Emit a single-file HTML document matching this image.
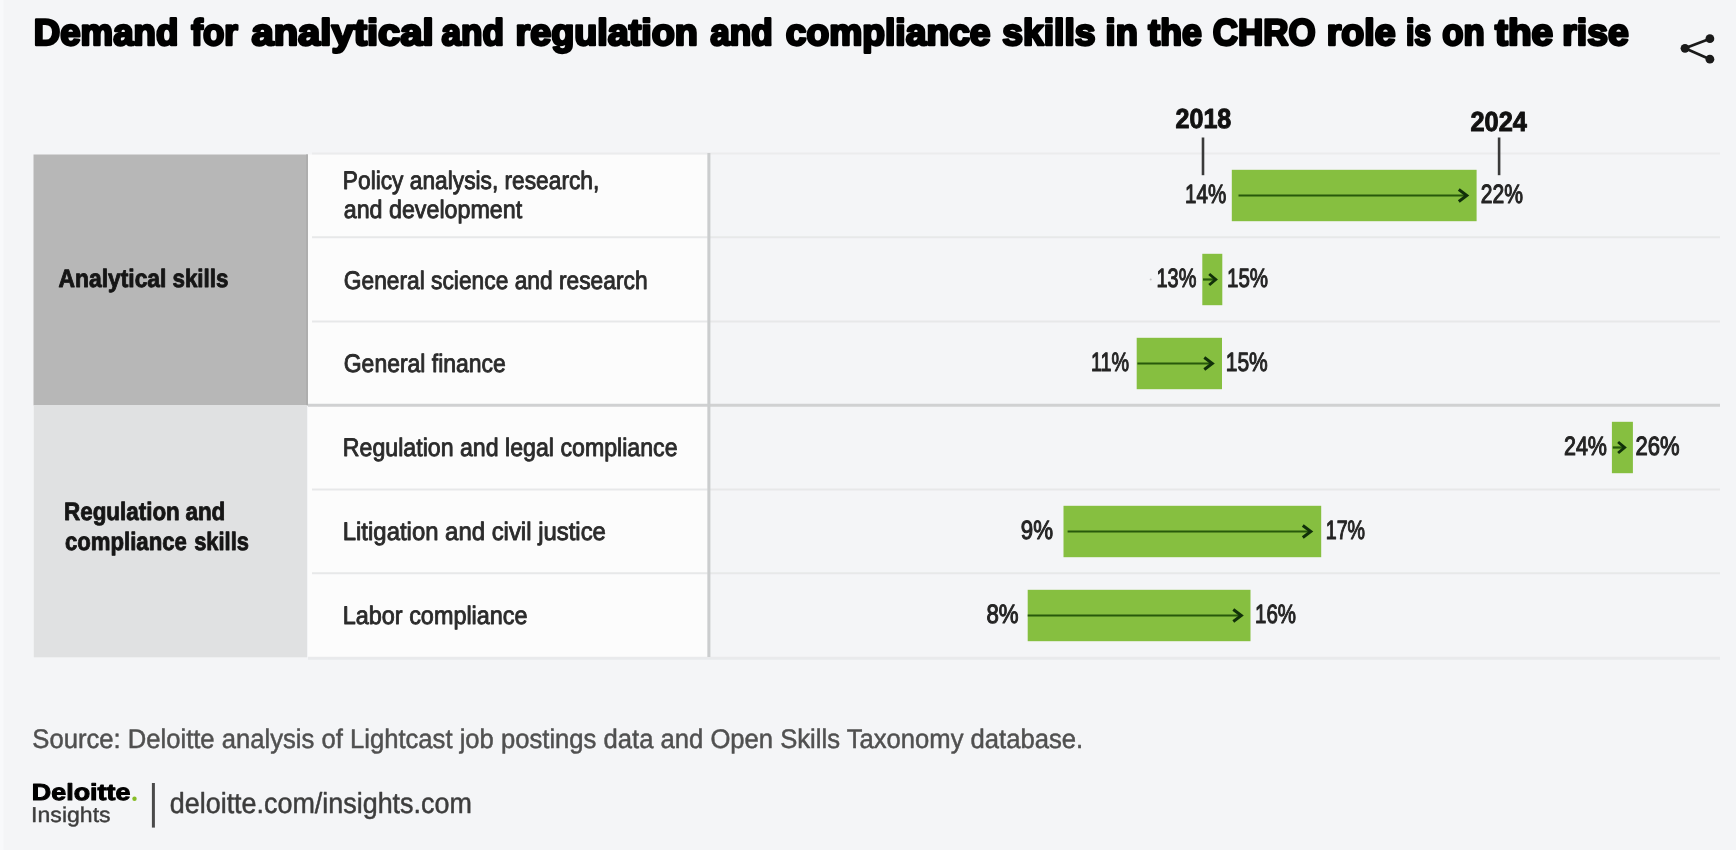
<!DOCTYPE html>
<html><head><meta charset="utf-8"><title>Demand for analytical and regulation and compliance skills in the CHRO role</title>
<style>
html,body{margin:0;padding:0;background:#f4f5f7;}
body{width:1736px;height:850px;overflow:hidden;font-family:"Liberation Sans", sans-serif;}
svg{display:block;font-family:"Liberation Sans", sans-serif;filter:blur(0.6px);}
text{white-space:pre;text-rendering:geometricPrecision;}
</style></head><body>
<svg width="1736" height="850" viewBox="0 0 1736 850">
<rect x="0" y="0" width="1736" height="850" fill="#f4f5f7"/>
<rect x="0" y="0" width="3.5" height="850" fill="#f8f9fb"/>
<rect x="33.5" y="154.5" width="274.5" height="250.8" fill="#b7b7b7"/>
<rect x="306" y="154.5" width="2" height="250.8" fill="#aeaeae"/>
<rect x="33.8" y="405.3" width="273.2" height="252.0" fill="#e0e1e2"/>
<rect x="308" y="154.5" width="399" height="502.8" fill="#fcfcfc"/>
<line x1="312" y1="153.6" x2="1720" y2="153.6" stroke="#ebeced" stroke-width="2"/>
<line x1="312" y1="237.3" x2="1720" y2="237.3" stroke="#e7e8e9" stroke-width="2"/>
<line x1="312" y1="321.4" x2="1720" y2="321.4" stroke="#e7e8e9" stroke-width="2"/>
<line x1="312" y1="489.4" x2="1720" y2="489.4" stroke="#e7e8e9" stroke-width="2"/>
<line x1="312" y1="573.2" x2="1720" y2="573.2" stroke="#e7e8e9" stroke-width="2"/>
<line x1="308" y1="658.3" x2="1720" y2="658.3" stroke="#e9eaec" stroke-width="3"/>
<line x1="308" y1="405.3" x2="1720" y2="405.3" stroke="#d0d1d2" stroke-width="3"/>
<line x1="708.9" y1="153" x2="708.9" y2="657" stroke="#cbcdce" stroke-width="3"/>
<text x="33.82" y="45.1" font-size="37" font-weight="bold" fill="#000" stroke="#000" stroke-width="2.6" stroke-linejoin="round" textLength="144.46" lengthAdjust="spacingAndGlyphs">Demand</text>
<text x="191.3" y="45.1" font-size="37" font-weight="bold" fill="#000" stroke="#000" stroke-width="2.6" stroke-linejoin="round" textLength="46.53" lengthAdjust="spacingAndGlyphs">for</text>
<text x="251.47" y="45.1" font-size="37" font-weight="bold" fill="#000" stroke="#000" stroke-width="2.6" stroke-linejoin="round" textLength="182.19" lengthAdjust="spacingAndGlyphs">analytical</text>
<text x="441.6" y="45.1" font-size="37" font-weight="bold" fill="#000" stroke="#000" stroke-width="2.6" stroke-linejoin="round" textLength="62.37" lengthAdjust="spacingAndGlyphs">and</text>
<text x="515.51" y="45.1" font-size="37" font-weight="bold" fill="#000" stroke="#000" stroke-width="2.6" stroke-linejoin="round" textLength="182.32" lengthAdjust="spacingAndGlyphs">regulation</text>
<text x="710.35" y="45.1" font-size="37" font-weight="bold" fill="#000" stroke="#000" stroke-width="2.6" stroke-linejoin="round" textLength="62.37" lengthAdjust="spacingAndGlyphs">and</text>
<text x="785.79" y="45.1" font-size="37" font-weight="bold" fill="#000" stroke="#000" stroke-width="2.6" stroke-linejoin="round" textLength="204.74" lengthAdjust="spacingAndGlyphs">compliance</text>
<text x="1002.29" y="45.1" font-size="37" font-weight="bold" fill="#000" stroke="#000" stroke-width="2.6" stroke-linejoin="round" textLength="93.24" lengthAdjust="spacingAndGlyphs">skills</text>
<text x="1105.59" y="45.1" font-size="37" font-weight="bold" fill="#000" stroke="#000" stroke-width="2.6" stroke-linejoin="round" textLength="32.17" lengthAdjust="spacingAndGlyphs">in</text>
<text x="1148.3" y="45.1" font-size="37" font-weight="bold" fill="#000" stroke="#000" stroke-width="2.6" stroke-linejoin="round" textLength="53.46" lengthAdjust="spacingAndGlyphs">the</text>
<text x="1212.86" y="45.1" font-size="37" font-weight="bold" fill="#000" stroke="#000" stroke-width="2.6" stroke-linejoin="round" textLength="102.83" lengthAdjust="spacingAndGlyphs">CHRO</text>
<text x="1326.77" y="45.1" font-size="37" font-weight="bold" fill="#000" stroke="#000" stroke-width="2.6" stroke-linejoin="round" textLength="68.76" lengthAdjust="spacingAndGlyphs">role</text>
<text x="1405.91" y="45.1" font-size="37" font-weight="bold" fill="#000" stroke="#000" stroke-width="2.6" stroke-linejoin="round" textLength="25.26" lengthAdjust="spacingAndGlyphs">is</text>
<text x="1442.36" y="45.1" font-size="37" font-weight="bold" fill="#000" stroke="#000" stroke-width="2.6" stroke-linejoin="round" textLength="42.34" lengthAdjust="spacingAndGlyphs">on</text>
<text x="1495" y="45.1" font-size="37" font-weight="bold" fill="#000" stroke="#000" stroke-width="2.6" stroke-linejoin="round" textLength="58.1" lengthAdjust="spacingAndGlyphs">the</text>
<text x="1562.28" y="45.1" font-size="37" font-weight="bold" fill="#000" stroke="#000" stroke-width="2.6" stroke-linejoin="round" textLength="66.5" lengthAdjust="spacingAndGlyphs">rise</text>
<g stroke="#1a1a1a" stroke-width="2.6"><line x1="1685" y1="48.3" x2="1709.9" y2="38.7"/><line x1="1685" y1="48.3" x2="1709.9" y2="59.2"/></g>
<circle cx="1685" cy="48.3" r="4.4" fill="#1a1a1a"/>
<circle cx="1709.9" cy="38.7" r="4.4" fill="#1a1a1a"/>
<circle cx="1709.9" cy="59.2" r="4.4" fill="#1a1a1a"/>
<text x="1175.5" y="128.4" font-size="27.5" font-weight="bold" fill="#111" stroke="#111" stroke-width="1.0" stroke-linejoin="round" textLength="55.77" lengthAdjust="spacingAndGlyphs">2018</text>
<text x="1470.5" y="130.7" font-size="27.5" font-weight="bold" fill="#111" stroke="#111" stroke-width="1.0" stroke-linejoin="round" textLength="56.35" lengthAdjust="spacingAndGlyphs">2024</text>
<line x1="1203" y1="137.5" x2="1203" y2="175.2" stroke="#3a3a3a" stroke-width="2.6"/>
<line x1="1499.1" y1="137.5" x2="1499.1" y2="175.2" stroke="#3a3a3a" stroke-width="2.6"/>
<text x="58.45" y="286.8" font-size="25.2" font-weight="bold" fill="#161616" stroke="#161616" stroke-width="0.9" stroke-linejoin="round" textLength="108.01" lengthAdjust="spacingAndGlyphs">Analytical</text>
<text x="172.45" y="286.8" font-size="25.2" font-weight="bold" fill="#161616" stroke="#161616" stroke-width="0.9" stroke-linejoin="round" textLength="56" lengthAdjust="spacingAndGlyphs">skills</text>
<text x="64.06" y="520.1" font-size="25.2" font-weight="bold" fill="#161616" stroke="#161616" stroke-width="0.9" stroke-linejoin="round" textLength="115.72" lengthAdjust="spacingAndGlyphs">Regulation</text>
<text x="185.45" y="520.1" font-size="25.2" font-weight="bold" fill="#161616" stroke="#161616" stroke-width="0.9" stroke-linejoin="round" textLength="39.83" lengthAdjust="spacingAndGlyphs">and</text>
<text x="64.95" y="549.6" font-size="25.2" font-weight="bold" fill="#161616" stroke="#161616" stroke-width="0.9" stroke-linejoin="round" textLength="121.91" lengthAdjust="spacingAndGlyphs">compliance</text>
<text x="194.15" y="549.6" font-size="25.2" font-weight="bold" fill="#161616" stroke="#161616" stroke-width="0.9" stroke-linejoin="round" textLength="54.78" lengthAdjust="spacingAndGlyphs">skills</text>
<text x="342.86" y="189.2" font-size="25.4" font-weight="normal" fill="#2b2b2b" stroke="#2b2b2b" stroke-width="0.9" stroke-linejoin="round" textLength="256.43" lengthAdjust="spacingAndGlyphs">Policy analysis, research,</text>
<text x="343.73" y="218.29999999999998" font-size="25.4" font-weight="normal" fill="#2b2b2b" stroke="#2b2b2b" stroke-width="0.9" stroke-linejoin="round" textLength="178.47" lengthAdjust="spacingAndGlyphs">and development</text>
<text x="343.75" y="288.6" font-size="25.4" font-weight="normal" fill="#2b2b2b" stroke="#2b2b2b" stroke-width="0.9" stroke-linejoin="round" textLength="303.8" lengthAdjust="spacingAndGlyphs">General science and research</text>
<text x="343.75" y="372.1" font-size="25.4" font-weight="normal" fill="#2b2b2b" stroke="#2b2b2b" stroke-width="0.9" stroke-linejoin="round" textLength="162.12" lengthAdjust="spacingAndGlyphs">General finance</text>
<text x="342.83" y="455.6" font-size="25.4" font-weight="normal" fill="#2b2b2b" stroke="#2b2b2b" stroke-width="0.9" stroke-linejoin="round" textLength="334.75" lengthAdjust="spacingAndGlyphs">Regulation and legal compliance</text>
<text x="342.77" y="540.3000000000001" font-size="25.4" font-weight="normal" fill="#2b2b2b" stroke="#2b2b2b" stroke-width="0.9" stroke-linejoin="round" textLength="263.14" lengthAdjust="spacingAndGlyphs">Litigation and civil justice</text>
<text x="342.81" y="624.4" font-size="25.4" font-weight="normal" fill="#2b2b2b" stroke="#2b2b2b" stroke-width="0.9" stroke-linejoin="round" textLength="184.78" lengthAdjust="spacingAndGlyphs">Labor compliance</text>
<rect x="1231.8" y="169.8" width="244.8" height="51.4" fill="#86bf40"/>
<text x="1185.1" y="203.4" font-size="26.5" font-weight="normal" fill="#242424" stroke="#242424" stroke-width="1.1" stroke-linejoin="round" textLength="41.09" lengthAdjust="spacingAndGlyphs">14%</text>
<text x="1480.75" y="203.4" font-size="26.5" font-weight="normal" fill="#242424" stroke="#242424" stroke-width="1.1" stroke-linejoin="round" textLength="42.24" lengthAdjust="spacingAndGlyphs">22%</text>
<line x1="1238.5" y1="195.5" x2="1466" y2="195.5" stroke="#27590b" stroke-width="2.2"/>
<polyline points="1458.8,189.5 1466.8,195.5 1458.8,201.5" fill="none" stroke="#11300a" stroke-width="3"/>
<rect x="1202.3" y="253.8" width="20.0" height="51.4" fill="#86bf40"/>
<text x="1156.55" y="287.4" font-size="26.5" font-weight="normal" fill="#242424" stroke="#242424" stroke-width="1.1" stroke-linejoin="round" textLength="39.82" lengthAdjust="spacingAndGlyphs">13%</text>
<text x="1227" y="287.4" font-size="26.5" font-weight="normal" fill="#242424" stroke="#242424" stroke-width="1.1" stroke-linejoin="round" textLength="41.09" lengthAdjust="spacingAndGlyphs">15%</text>
<line x1="1203" y1="279.5" x2="1215.7" y2="279.5" stroke="#27590b" stroke-width="2.2"/>
<polyline points="1209.2,274.0 1215.7,279.5 1209.2,285.0" fill="none" stroke="#11300a" stroke-width="2.9"/>
<rect x="1136.7" y="337.8" width="85.3" height="51.4" fill="#86bf40"/>
<text x="1091.06" y="371.4" font-size="26.5" font-weight="normal" fill="#242424" stroke="#242424" stroke-width="1.1" stroke-linejoin="round" textLength="38.01" lengthAdjust="spacingAndGlyphs">11%</text>
<text x="1225.77" y="371.4" font-size="26.5" font-weight="normal" fill="#242424" stroke="#242424" stroke-width="1.1" stroke-linejoin="round" textLength="42.03" lengthAdjust="spacingAndGlyphs">15%</text>
<line x1="1137.4" y1="363.5" x2="1211.5" y2="363.5" stroke="#27590b" stroke-width="2.2"/>
<polyline points="1204.3,357.5 1212.3,363.5 1204.3,369.5" fill="none" stroke="#11300a" stroke-width="3"/>
<rect x="1611.9" y="421.8" width="21.0" height="51.4" fill="#86bf40"/>
<text x="1563.94" y="455.4" font-size="26.5" font-weight="normal" fill="#242424" stroke="#242424" stroke-width="1.1" stroke-linejoin="round" textLength="43.07" lengthAdjust="spacingAndGlyphs">24%</text>
<text x="1635.52" y="455.4" font-size="26.5" font-weight="normal" fill="#242424" stroke="#242424" stroke-width="1.1" stroke-linejoin="round" textLength="44.1" lengthAdjust="spacingAndGlyphs">26%</text>
<line x1="1612.8" y1="447.5" x2="1624.6" y2="447.5" stroke="#27590b" stroke-width="2.2"/>
<polyline points="1618.1,442.0 1624.6,447.5 1618.1,453.0" fill="none" stroke="#11300a" stroke-width="2.9"/>
<rect x="1063.5" y="505.8" width="257.7" height="51.4" fill="#86bf40"/>
<text x="1020.81" y="539.4" font-size="26.5" font-weight="normal" fill="#242424" stroke="#242424" stroke-width="1.1" stroke-linejoin="round" textLength="32.21" lengthAdjust="spacingAndGlyphs">9%</text>
<text x="1325.77" y="539.4" font-size="26.5" font-weight="normal" fill="#242424" stroke="#242424" stroke-width="1.1" stroke-linejoin="round" textLength="39.3" lengthAdjust="spacingAndGlyphs">17%</text>
<line x1="1067.6" y1="531.5" x2="1310" y2="531.5" stroke="#27590b" stroke-width="2.2"/>
<polyline points="1302.8,525.5 1310.8,531.5 1302.8,537.5" fill="none" stroke="#11300a" stroke-width="3"/>
<rect x="1027.7" y="589.8" width="222.8" height="51.4" fill="#86bf40"/>
<text x="986.51" y="623.4" font-size="26.5" font-weight="normal" fill="#242424" stroke="#242424" stroke-width="1.1" stroke-linejoin="round" textLength="32.11" lengthAdjust="spacingAndGlyphs">8%</text>
<text x="1255.1" y="623.4" font-size="26.5" font-weight="normal" fill="#242424" stroke="#242424" stroke-width="1.1" stroke-linejoin="round" textLength="40.98" lengthAdjust="spacingAndGlyphs">16%</text>
<line x1="1027.7" y1="615.5" x2="1240.5" y2="615.5" stroke="#27590b" stroke-width="2.2"/>
<polyline points="1233.3,609.5 1241.3,615.5 1233.3,621.5" fill="none" stroke="#11300a" stroke-width="3"/>
<text x="32.3" y="748.4" font-size="27" font-weight="normal" fill="#505050" stroke="#505050" stroke-width="0.5" stroke-linejoin="round" textLength="1050.87" lengthAdjust="spacingAndGlyphs">Source: Deloitte analysis of Lightcast job postings data and Open Skills Taxonomy database.</text>
<text x="31.84" y="799.8" font-size="23.2" font-weight="bold" fill="#000" stroke="#000" stroke-width="1.0" stroke-linejoin="round" textLength="98.54" lengthAdjust="spacingAndGlyphs">Deloitte</text>
<circle cx="134.5" cy="798.8" r="2.2" fill="#86bc25"/>
<text x="31.13" y="822.2" font-size="21.5" font-weight="normal" fill="#3d3d3d" stroke="#3d3d3d" stroke-width="0.4" stroke-linejoin="round" textLength="79.48" lengthAdjust="spacingAndGlyphs">Insights</text>
<line x1="153.4" y1="783" x2="153.4" y2="827.6" stroke="#4a4a4a" stroke-width="3"/>
<text x="169.82" y="812.9" font-size="29" font-weight="normal" fill="#3d3d3d" stroke="#3d3d3d" stroke-width="0.5" stroke-linejoin="round" textLength="302" lengthAdjust="spacingAndGlyphs">deloitte.com/insights.com</text>
<circle cx="1150.7" cy="279.6" r="1" fill="#c4c5c6"/>
</svg>
</body></html>
